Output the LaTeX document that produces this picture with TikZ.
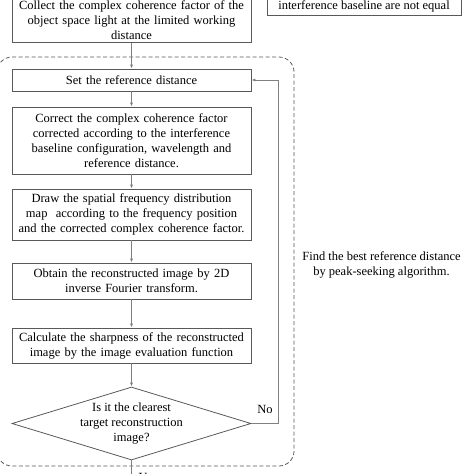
\documentclass[tikz,border=0pt]{standalone}
\usepackage{fontspec}
\setmainfont{Liberation Serif}
\usetikzlibrary{shapes.geometric, arrows.meta}

\begin{document}
\begin{tikzpicture}
    [x=1pt, y=-1pt,
     every node/.style={font=\fontsize{12.5}{15}\selectfont},
     stepbox/.style={draw=black!65, line width=0.8pt, align=center, text width=237pt,
                     inner xsep=1pt, inner ysep=3pt, minimum width=239pt},
     link/.style={draw=black!50, line width=0.7pt, -{Latex[length=4pt, width=3pt]}},
     plain/.style={draw=black!50, line width=0.7pt}]

    \useasboundingbox (0,0) rectangle (474,474);

    \draw[black!65, line width=0.8pt, dash pattern=on 4pt off 2.5pt, rounded corners=15pt]
        (-3,57) rectangle (294,466);

    \node[stepbox] (collect) at (131.5,20)
        {Collect the complex coherence factor of the\\object space light at the limited working\\distance};
    \node[draw=black!65, line width=0.8pt, text height=28pt, text depth=3.5pt, inner xsep=4pt,
          inner ysep=3pt, minimum width=194pt, anchor=south] (cond) at (364,16)
        {interference baseline are not equal};

    \node[stepbox, minimum height=22pt] (refdist) at (131.5,80) {Set the reference distance};
    \node[stepbox, minimum height=67pt] (correct) at (131.5,140.5)
        {Correct the complex coherence factor\\corrected according to the interference\\baseline configuration, wavelength and\\reference distance.};
    \node[stepbox, minimum height=51pt] (spectrum) at (131.5,214.5)
        {Draw the spatial frequency distribution\\map\ \ according to the frequency position\\and the corrected complex coherence factor.};
    \node[stepbox, minimum height=36pt] (obtain) at (131.5,281)
        {Obtain the reconstructed image by 2D\\inverse Fourier transform.};
    \node[stepbox, minimum height=35pt] (sharp) at (131.5,345.5)
        {Calculate the sharpness of the reconstructed\\image by the image evaluation function};
    \node[diamond, draw=black!65, line width=0.8pt, minimum width=239pt, minimum height=73pt,
          inner sep=0pt, label={[align=center]center:Is it the clearest\\target reconstruction\\image?}]
        (decide) at (131.5,423.5) {};

    \foreach \a/\b in {collect/refdist, refdist/correct, correct/spectrum, spectrum/obtain, obtain/sharp, sharp/decide}
        \draw[link] (\a.south) -- (\b.north);

    \coordinate (turn) at (278,423.5);
    \draw[link] (decide.east) -- (turn) |- (refdist.east);
    \node (no) at (265,409) {No};

    \coordinate (out) at (131.5,480);
    \draw[plain] (decide.south) -- (out);
    \node[anchor=base west] (yes) at (135,481) {Yes};

    \node[align=center] (find) at (381.5,264.5)
        {Find the best reference distance\\by peak-seeking algorithm.};
\end{tikzpicture}
\end{document}
